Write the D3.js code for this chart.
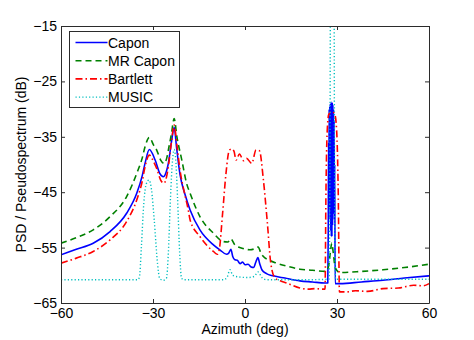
<!DOCTYPE html>
<html>
<head>
<meta charset="utf-8">
<script src="https://cdn.jsdelivr.net/npm/d3@7"></script>
<style>
  body { margin: 0; background: #fff; }
  svg { display: block; font-family: "Liberation Sans", Arial, sans-serif; }
</style>
</head>
<body>
<div id="wrapper"></div>
<script>
// azimuth (deg), level (dB)
const capon = [
    [-60, -56.3], [-55, -55.3], [-49.5, -54.2], [-44, -52.1], [-38.6, -48.8], [-35.3, -45.2],
    [-33.5, -42], [-32.6, -39.8], [-31.2, -37.3], [-29.3, -39.2], [-27.8, -41.6], [-26.6, -42.2],
    [-25.5, -41], [-25, -39.8], [-24, -36], [-23.1, -33.3], [-22.3, -37], [-21.2, -41.8],
    [-19.5, -45.5], [-17.9, -48.2], [-14.7, -51.8], [-10.3, -54.5], [-8.2, -55.4], [-6, -56.2],
    [-5.3, -56.0], [-4.6, -55.3], [-4.0, -56.6], [-3.3, -57.2], [-2.5, -57.3], [-1.6, -57.9],
    [-0.8, -57.6], [0, -58.1], [1, -58.0], [2, -58.5], [2.8, -58.6], [3.6, -57.5], [4.2, -56.8],
    [4.8, -57.9], [5.5, -59.0], [7, -59.7], [9.2, -60.1], [13, -60.5], [17.9, -61], [22, -61.2],
    [26.1, -61.4], [27.0, -61.4], [27.15, -52], [27.25, -36], [27.35, -46], [27.45, -30],
    [27.55, -48], [27.65, -29.5], [27.75, -50], [27.85, -29], [27.95, -52], [28.05, -28.9],
    [28.15, -53], [28.25, -28.7], [28.35, -53], [28.45, -28.8], [28.55, -51], [28.65, -29.2],
    [28.75, -49], [28.85, -30], [28.95, -46], [29.05, -32], [29.15, -50], [29.25, -40],
    [29.4, -61.5], [31, -61.5], [38, -61.2], [45, -60.9], [52, -60.5], [60, -60.1]
]

const mrCapon = [
    [-60, -54.2], [-55, -53.2], [-49.5, -51.8], [-44, -49.4], [-38.6, -45.8], [-35.3, -41.6],
    [-33.5, -38.8], [-32.6, -36.8], [-31.2, -35.1], [-29.8, -36.5], [-28.8, -37.4], [-27.5, -39.2],
    [-26.4, -39.8], [-25.5, -38.8], [-25, -37.4], [-24, -34.5], [-23.1, -31.7], [-22.2, -35],
    [-20.6, -39.2], [-19, -43.5], [-17.9, -45.2], [-14.7, -49.4], [-10.3, -52.4], [-7.1, -53.9],
    [-5.6, -54.0], [-4.7, -53.4], [-3.3, -54.5], [-1, -55.1], [1.6, -55.4], [3.2, -55.2],
    [4.3, -54.9], [5.2, -56], [6, -56.6], [8, -57.3], [10.3, -57.8], [14, -58.4], [17.9, -58.9],
    [22, -59.1], [26.1, -59.3], [27.2, -58.5], [27.8, -56], [28.3, -54.2], [28.8, -56], [29.4, -58.6],
    [31, -59.5], [38, -59.3], [45, -59], [52, -58.6], [60, -58]
]

const bartlett = [
    [-60, -57.8], [-55, -56.9], [-49.5, -55.7], [-44, -53.6], [-38.6, -50.3], [-35.3, -46.4],
    [-33.5, -43], [-32.6, -40.4], [-31.2, -38.3], [-29.8, -39.5], [-28.8, -40.7], [-27.5, -42.8],
    [-26.4, -43.4], [-25.5, -42], [-25, -40.4], [-24, -36], [-23.1, -32.9], [-22.2, -36.5],
    [-21.2, -41], [-19.8, -45], [-18.5, -48.2], [-17.9, -50], [-14.7, -53], [-10.3, -55.7],
    [-9, -56.2], [-8.4, -55.4], [-7.3, -48.8], [-6.2, -41.6], [-5.1, -37.4], [-4.4, -37.2],
    [-3.6, -37.6], [-2.9, -39.2], [-1.8, -38.1], [-0.5, -39.3], [0.5, -38.9], [2.2, -39.8],
    [3.6, -37.4], [4.7, -37.5], [6, -42.8], [7.3, -50.6], [8.4, -57.8], [9.8, -60.5], [11.5, -61],
    [13.6, -61.4], [17.9, -62.3], [20.6, -62.5], [23, -62.4], [25.5, -62.5], [26.1, -62.5],
    [26.4, -45], [26.8, -34], [27.3, -31], [28.3, -30.4], [29.3, -31], [29.9, -34], [30.4, -45],
    [30.8, -63], [33, -63], [36, -62.8], [40, -62.9], [45, -62.4], [50, -62.3], [55, -61.8],
    [58, -61.9], [60, -61.5]
]

const music = [
    [-60, -60.8], [-35, -60.8], [-34.4, -60.3], [-33.8, -55], [-33, -47], [-32.2, -43.5],
    [-31.3, -42.8], [-30.5, -44.5], [-29.6, -50], [-28.5, -58], [-27.8, -60.6], [-26.6, -60.9],
    [-25.6, -60.5], [-25, -56], [-24.3, -46], [-23.6, -39], [-23.1, -37.3], [-22.6, -39],
    [-22, -46], [-21.3, -56], [-20.7, -60.5], [-20, -60.8], [-7, -60.8], [-5.8, -60.3],
    [-4.9, -59], [-4, -60], [-2, -60.3], [1, -60.4], [3, -60.2], [4.3, -59.4], [5.5, -60.4],
    [7, -60.8], [20, -60.8], [27.4, -60.7], [27.7, -40], [27.9, -5], [29.0, -5], [29.2, -40],
    [29.5, -60.7], [45, -60.7], [60, -60.7]
]

const xTicks = [-60, -30, 0, 30, 60]
const yTicks = [-65, -55, -45, -35, -25, -15]

const seriesNames = ["Capon", "MR Capon", "Bartlett", "MUSIC"]

window.addEventListener("load", paint)

function paint() {
    const dimensions = getDimensions()
    const m = dimensions.margin

    const svg = d3.select("#wrapper")
        .append("svg")
            .attr("width", dimensions.width)
            .attr("height", dimensions.height)

    const x = d3.scaleLinear().domain([-60, 60]).range([0, dimensions.boundedWidth])
    const y = d3.scaleLinear().domain([-65, -15]).range([dimensions.boundedHeight, 0])

    const bounds = svg.append("g")
        .attr("transform", `translate(${m.left},${m.top})`)

    bounds.append("clipPath").attr("id", "plot-clip")
        .append("rect")
            .attr("width", dimensions.boundedWidth)
            .attr("height", dimensions.boundedHeight)

    const styles = [
        { data: capon,    color: "#0000ff", dash: null,          width: 1.6 },
        { data: mrCapon,  color: "#008000", dash: "6,4",         width: 1.6 },
        { data: bartlett, color: "#ff0000", dash: "7,3,1.5,3",   width: 1.6 },
        { data: music,    color: "#00bfbf", dash: "1.2,2.2",     width: 1.4 }
    ]

    const line = d3.line()
        .x(d => x(d[0]))
        .y(d => y(d[1]))
        .curve(d3.curveMonotoneX)

    const plot = bounds.append("g").attr("clip-path", "url(#plot-clip)")
    styles.forEach(s => {
        plot.append("path")
            .datum(s.data)
            .attr("fill", "none")
            .attr("stroke", s.color)
            .attr("stroke-width", s.width)
            .attr("stroke-dasharray", s.dash)
            .attr("stroke-linejoin", "round")
            .attr("d", line)
    })

    // axes, ticks pointing inward on all four sides
    const axisColor = "#2b2b2b"
    const bottom = bounds.append("g")
        .attr("transform", `translate(0,${dimensions.boundedHeight})`)
        .call(d3.axisBottom(x).tickValues(xTicks).tickSizeInner(-4).tickSizeOuter(0).tickPadding(5))
    const left = bounds.append("g")
        .call(d3.axisLeft(y).tickValues(yTicks).tickSizeInner(-4).tickSizeOuter(0).tickPadding(4))
    const top = bounds.append("g")
        .call(d3.axisTop(x).tickValues(xTicks).tickSizeInner(-4).tickSizeOuter(0).tickFormat(""))
    const right = bounds.append("g")
        .attr("transform", `translate(${dimensions.boundedWidth},0)`)
        .call(d3.axisRight(y).tickValues(yTicks).tickSizeInner(-4).tickSizeOuter(0).tickFormat(""))

    ;[bottom, left, top, right].forEach(a => {
        a.select(".domain").attr("stroke", axisColor)
        a.selectAll(".tick line").attr("stroke", axisColor)
        a.selectAll("text")
            .attr("fill", "#000")
            .style("font-size", "14px")
            .style("font-family", "\"Liberation Sans\", Arial, sans-serif")
    })

    svg.append("text")
        .attr("x", m.left + dimensions.boundedWidth / 2)
        .attr("y", 334)
        .attr("text-anchor", "middle")
        .style("font-size", "14px")
        .text("Azimuth (deg)")

    svg.append("text")
        .attr("transform", `translate(26,${m.top + dimensions.boundedHeight / 2}) rotate(-90)`)
        .attr("text-anchor", "middle")
        .style("font-size", "14px")
        .text("PSD / Pseudospectrum (dB)")

    drawLegend(svg, styles)
}

function drawLegend(svg, styles) {
    const legend = svg.append("g").attr("transform", "translate(69.5,31.5)")

    legend.append("rect")
        .attr("width", 110)
        .attr("height", 76)
        .attr("fill", "#fff")
        .attr("stroke", "#2b2b2b")
        .attr("stroke-width", 1)

    styles.forEach((s, i) => {
        const row = legend.append("g").attr("transform", `translate(0,${11 + i * 18.2})`)
        row.append("line")
            .attr("x1", 6).attr("x2", 38)
            .attr("stroke", s.color)
            .attr("stroke-width", s.width)
            .attr("stroke-dasharray", s.dash)
        row.append("text")
            .attr("x", 38.5)
            .attr("dy", "0.36em")
            .style("font-size", "14px")
            .text(seriesNames[i])
    })
}

function getDimensions() {
    let dimensions = {
        width: 474,
        height: 340,
        margin: {
            top: 26,
            right: 45,
            bottom: 37,
            left: 61,
        },
    }

    return {
        ...dimensions,
        boundedWidth: dimensions.width - dimensions.margin.left - dimensions.margin.right,
        boundedHeight: dimensions.height - dimensions.margin.top - dimensions.margin.bottom
    }
}
</script>
</body>
</html>
